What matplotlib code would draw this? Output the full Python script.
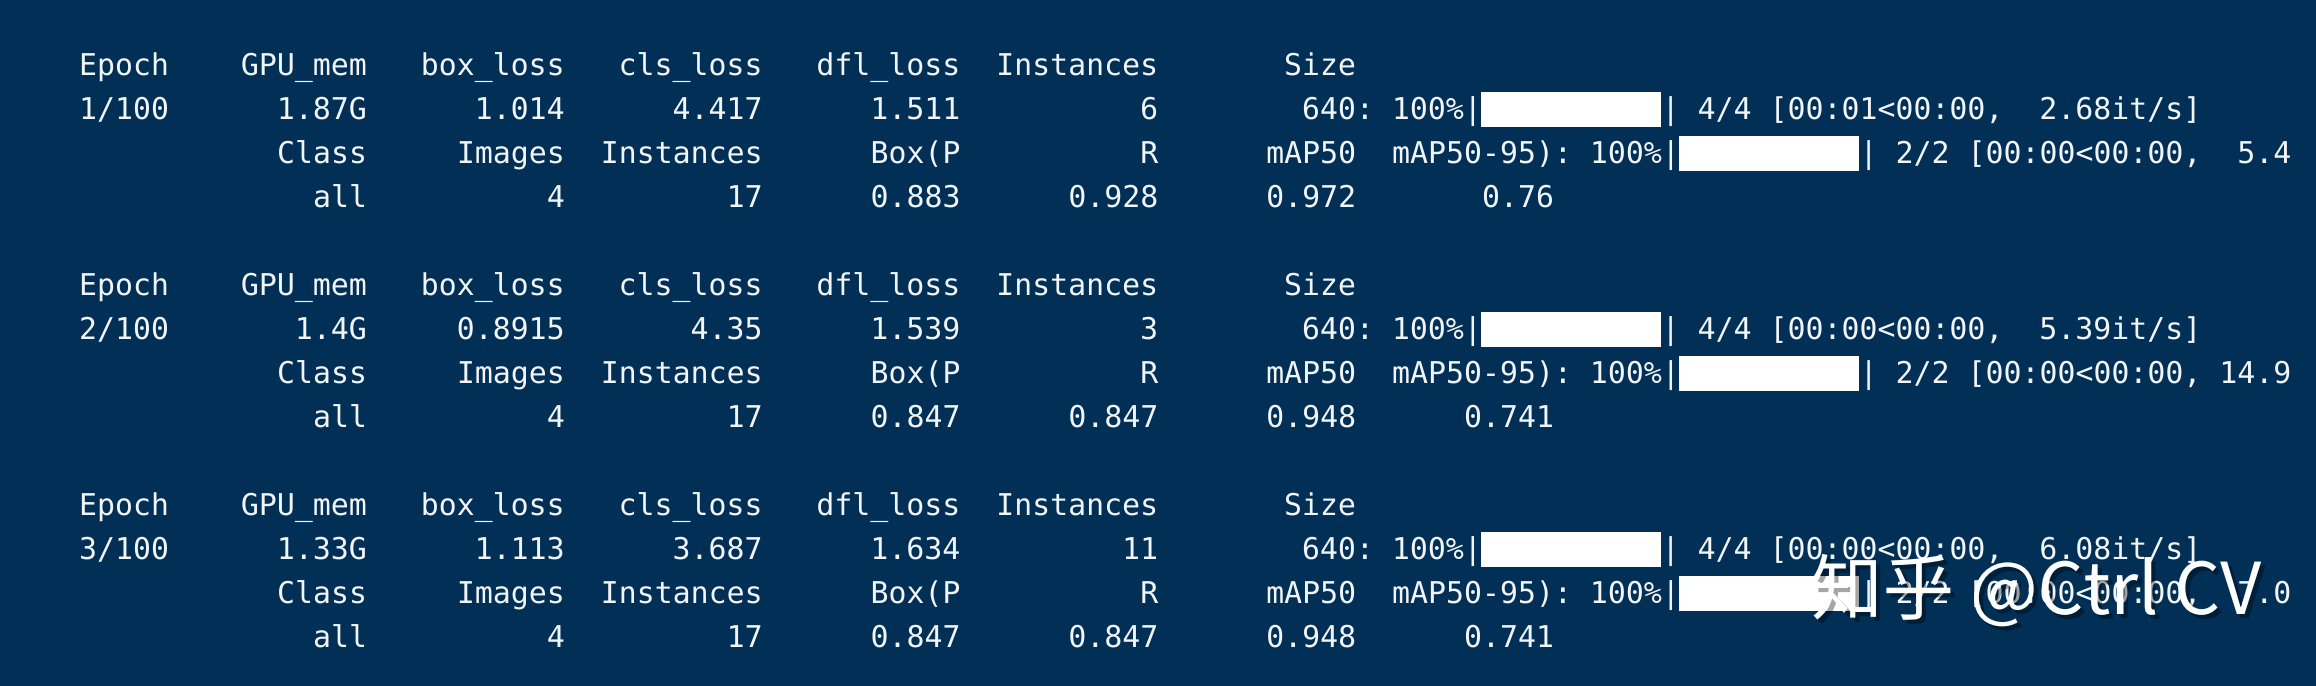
import matplotlib
matplotlib.use("Agg")
import matplotlib.pyplot as plt
import matplotlib.patheffects as pe

plt.rcParams["text.hinting"] = "no_hinting"

# training log values, one entry per epoch
epochs = ["1/100", "2/100", "3/100"]
gpu_mem = ["1.87G", "1.4G", "1.33G"]
box_loss = [1.014, 0.8915, 1.113]
cls_loss = [4.417, 4.35, 3.687]
dfl_loss = [1.511, 1.539, 1.634]
instances = [6, 3, 11]
img_size = [640, 640, 640]
train_tail = ["4/4 [00:01<00:00,  2.68it/s]", "4/4 [00:00<00:00,  5.39it/s]", "4/4 [00:00<00:00,  6.08it/s]"]
val_tail = ["2/2 [00:00<00:00,  5.4", "2/2 [00:00<00:00, 14.9", "2/2 [00:00<00:00,  7.0"]
images = [4, 4, 4]
targets = [17, 17, 17]
precision = [0.883, 0.847, 0.847]
recall = [0.928, 0.847, 0.847]
map50 = [0.972, 0.948, 0.948]
map50_95 = [0.76, 0.741, 0.741]
progress = [100, 100, 100]

train_cols = ["Epoch", "GPU_mem", "box_loss", "cls_loss", "dfl_loss", "Instances", "Size"]
val_cols = ["Class", "Images", "Instances", "Box(P", "R", "mAP50", "mAP50-95)"]

BAR_CHARS = 10
BG = "#012F55"
FG = "#F2F5F7"

# the axes is the terminal grid: x in characters, y in lines
CHAR_W = 18.0
LINE_H = 44.0
fig = plt.figure(figsize=(23.16, 6.86), dpi=100, facecolor=BG)
ax = fig.add_axes([0, 0, 1, 1])
ax.set_facecolor(BG)
ax.set_xlim(31 / CHAR_W, (2316 + 31) / CHAR_W)
ax.set_ylim((686 - 76) / LINE_H, -76 / LINE_H)
ax.axis("off")


def put_line(row, line):
    # leading blanks become an x offset, the rest stays one string
    stripped = line.lstrip()
    ax.text(len(line) - len(stripped) + 0.1, row, stripped, family="DejaVu Sans Mono",
            fontsize=21.55, color=FG, va="baseline", ha="left")


def put_bar(row, col, pct):
    ax.barh(row - 0.239, BAR_CHARS * pct / 100, height=0.795, left=col, color="white", linewidth=0)


for i in range(len(epochs)):
    row = i * 5
    put_line(row, ("%11s" * 7) % tuple(train_cols))

    line = ("%11s" * 2 + "%11.4g" * 3 + "%11d%11d") % (epochs[i], gpu_mem[i], box_loss[i], cls_loss[i],
                                                       dfl_loss[i], instances[i], img_size[i])
    line += ": %d%%|" % progress[i]
    put_bar(row + 1, len(line), progress[i])
    put_line(row + 1, line + " " * BAR_CHARS + "| " + train_tail[i])

    line = ("%22s" + "%11s" * 6) % tuple(val_cols)
    line += ": %d%%|" % progress[i]
    put_bar(row + 2, len(line), progress[i])
    put_line(row + 2, line + " " * BAR_CHARS + "| " + val_tail[i])

    put_line(row + 3, ("%22s%11d%11d" + "%11.3g" * 4) % ("all", images[i], targets[i], precision[i],
                                                         recall[i], map50[i], map50_95[i]))

# watermark sits on top of the last block
fig.text(1811 / 2316, 1 - 614 / 686, "知乎 @Ctrl CV", family=["Noto Sans CJK SC", "DejaVu Sans"],
         fontsize=51.5, color="white", va="baseline", ha="left", zorder=10,
         path_effects=[pe.withSimplePatchShadow(offset=(3, -3), shadow_rgbFace="black", alpha=0.35)])

fig.savefig("out.png", dpi=100, facecolor=BG)
